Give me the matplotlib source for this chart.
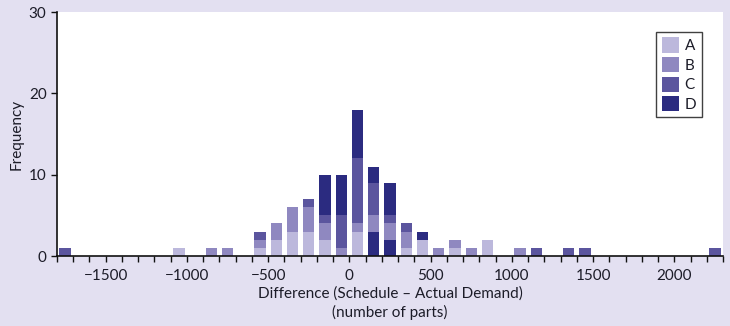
import matplotlib
matplotlib.use("Agg")
import matplotlib.pyplot as plt
import numpy as np

# bin left edges (width 100) with non-empty counts
bin_left = [-1800, -1100, -900, -800, -600, -500, -400, -300, -200, -100,
            0, 100, 200, 300, 400, 500, 600, 700, 800, 1000, 1100, 1300, 1400, 2200]
D_base = [0, 0, 0, 0, 0, 0, 0, 0, 0, 0, 0, 3, 2, 0, 0, 0, 0, 0, 0, 0, 0, 0, 0, 0]
A = [0, 1, 0, 0, 1, 2, 3, 3, 2, 0, 3, 0, 0, 1, 2, 0, 1, 0, 2, 0, 0, 0, 0, 0]
B = [0, 0, 1, 1, 1, 2, 3, 3, 2, 1, 1, 2, 2, 2, 0, 1, 1, 1, 0, 1, 0, 0, 0, 0]
C = [1, 0, 0, 0, 1, 0, 0, 1, 1, 4, 8, 4, 1, 1, 0, 0, 0, 0, 0, 0, 1, 1, 1, 1]
D = [0, 0, 0, 0, 0, 0, 0, 0, 5, 5, 6, 2, 4, 0, 1, 0, 0, 0, 0, 0, 0, 0, 0, 0]
series_names = ["A", "B", "C", "D"]
colors = {"A": "#bcb8dc", "B": "#8f88c0", "C": "#5b559e", "D": "#2b2b80"}

bg = "#e3e0f1"
txt = "#1c1c28"
plt.rcParams['font.family'] = ['Lato', 'DejaVu Sans']
fs = 11

fig = plt.figure(figsize=(7.3, 3.26), dpi=100, facecolor=bg)
ax = fig.add_axes([57/730, 1-256/326, (723-57)/730, (256-12)/326])
ax.set_facecolor("white")

centers = np.array(bin_left) + 50
width = 70
bottom = np.zeros(len(bin_left))
ax.bar(centers, D_base, width, bottom=bottom, color=colors["D"], linewidth=0)
bottom += np.array(D_base)
handles = []
for name, vals in zip(series_names, [A, B, C, D]):
    h = ax.bar(centers, vals, width, bottom=bottom, color=colors[name], linewidth=0, label=name)
    handles.append(h)
    bottom += np.array(vals)

ax.set_xlim(-1800, 2300)
ax.set_ylim(0, 30)
ax.set_xticks([-1500, -1000, -500, 0, 500, 1000, 1500, 2000])
ax.set_xticklabels(["\u22121500", "\u22121000", "\u2212500", "0", "500", "1000", "1500", "2000"])
ax.set_xticks(np.arange(-1800, 2301, 100), minor=True)
ax.set_yticks([0, 10, 20, 30])
for s in ["top", "right"]:
    ax.spines[s].set_visible(False)
for s in ["left", "bottom"]:
    ax.spines[s].set_linewidth(1.2)
    ax.spines[s].set_color("#111111")
ax.tick_params(axis="both", which="both", direction="out", length=4, width=1, colors="#111111",
               labelcolor=txt, labelsize=fs)
ax.tick_params(axis="x", which="major", pad=5)

ax.set_xlabel("Difference (Schedule \u2013 Actual Demand)\n(number of parts)", fontsize=fs,
              color=txt, labelpad=3, linespacing=1.3)
ax.set_ylabel("Frequency", fontsize=fs, color=txt, labelpad=4)

leg = ax.legend(handles=handles, loc="upper right", bbox_to_anchor=(0.968, 0.918),
                borderaxespad=0, fancybox=False, frameon=True,
                handlelength=1.15, handleheight=1.15,
                handletextpad=0.35, borderpad=0.35, labelspacing=0.25, fontsize=fs)
leg.get_frame().set_edgecolor("#111111")
leg.get_frame().set_linewidth(1.0)
for t in leg.get_texts():
    t.set_color(txt)

fig.savefig("out.png", dpi=100, facecolor=bg)
